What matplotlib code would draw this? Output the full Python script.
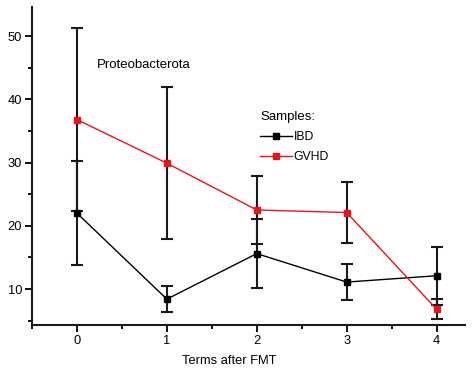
import numpy as np
import matplotlib
matplotlib.use("Agg")
import matplotlib.pyplot as plt
from matplotlib.ticker import MultipleLocator

plt.rcParams['font.family'] = ['Liberation Sans', 'DejaVu Sans']

# === data ===
terms = [0, 1, 2, 3, 4]
ibd_mean = [22.0, 8.4, 15.6, 11.1, 12.1]
ibd_err = [8.2, 2.1, 5.4, 2.9, 4.6]
gvhd_mean = [36.8, 29.9, 22.5, 22.1, 6.8]
gvhd_err = [14.5, 12.0, 5.4, 4.9, 1.6]

fig = plt.figure(figsize=(4.74, 3.74), dpi=100)
ax = fig.add_axes([32 / 474, 1 - 325 / 374, (465 - 32) / 474, (325 - 7) / 374])

# error bars (black for both series)
ax.errorbar(terms, gvhd_mean, yerr=gvhd_err, fmt='none', ecolor='#1a1a1a',
            elinewidth=1.5, capsize=4.3, capthick=1.5, zorder=3)
ax.errorbar(terms, ibd_mean, yerr=ibd_err, fmt='none', ecolor='#1a1a1a',
            elinewidth=1.5, capsize=4.3, capthick=1.5, zorder=3)

# lines + markers
ax.plot(terms, ibd_mean, '-s', color='black', lw=1.0, ms=4.8, label='IBD', zorder=4)
ax.plot(terms, gvhd_mean, '-s', color='#e8141a', lw=1.0, ms=4.8, label='GVHD', zorder=4)

ax.text(0.22, 45.4, 'Proteobacterota', fontsize=9.5, va='center', ha='left')

ax.set_xlim(-0.5, 4.316)
ax.set_ylim(4.31, 54.6)
ax.set_xticks(terms)
ax.xaxis.set_minor_locator(MultipleLocator(0.5))
ax.set_yticks([10, 20, 30, 40, 50])
ax.yaxis.set_minor_locator(MultipleLocator(5))

for s in ['top', 'right']:
    ax.spines[s].set_visible(False)
for s in ['left', 'bottom']:
    ax.spines[s].set_linewidth(1.5)
    ax.spines[s].set_color('#1a1a1a')

ax.tick_params(which='major', direction='out', length=5, width=1.3, labelsize=9.3, pad=2)
ax.tick_params(which='minor', direction='out', length=3, width=1.3)

ax.set_xlabel('Terms after FMT', fontsize=9.3)
ax.xaxis.set_label_coords(0.455, -0.113)
ax.xaxis.label.set_va('center')

leg = ax.legend(title='Samples:', loc='upper left', bbox_to_anchor=(260 / 474, 1 - 111 / 374),
                bbox_transform=fig.transFigure, frameon=False, fontsize=8.8,
                title_fontsize=9.5, handlelength=2.6, handletextpad=0.15,
                labelspacing=0.62, borderaxespad=0, borderpad=0, alignment='left')
leg._legend_box.sep = 6

fig.savefig('out.png', dpi=100)
